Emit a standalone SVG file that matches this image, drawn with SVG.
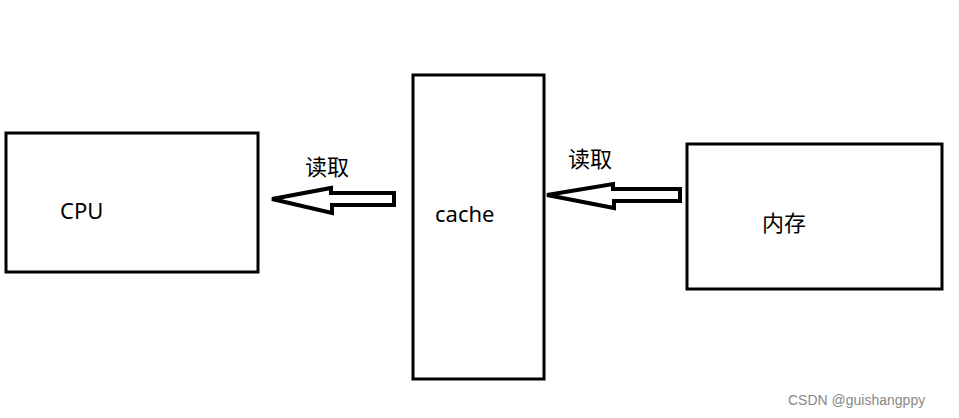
<svg xmlns="http://www.w3.org/2000/svg" width="959" height="418" viewBox="0 0 959 418">
<style>
.b{fill:none;stroke:#000;stroke-width:3}
.a{fill:#fff;stroke:#000;stroke-width:4;stroke-linejoin:miter}
text{font-family:"Noto Sans","Noto Sans CJK SC",sans-serif;font-size:22px;fill:#000}
.w{font-family:"Liberation Sans",sans-serif;font-size:14px;fill:#888}
</style>
<rect width="959" height="418" fill="#fff"/>
<g id="cpu"><rect class="b" x="6" y="133" width="252" height="139"/><text x="60" y="219">CPU</text></g>
<g id="cache"><rect class="b" x="413" y="75" width="131" height="304"/><text x="435" y="222">cache</text></g>
<g id="mem"><rect class="b" x="687" y="144" width="255" height="145"/><text x="762" y="231">内存</text></g>
<g id="connectors">
<polygon class="a" points="272,199 331,188 331,193 394,193 394,205 332,205 332,213"/>
<polygon class="a" points="547,195 613,184 613,189 680,189 680,201 614,201 614,208"/>
<text x="305" y="175">读取</text>
<text x="568" y="167">读取</text>
</g>
<text class="w" x="788" y="405">CSDN @guishangppy</text>
</svg>
